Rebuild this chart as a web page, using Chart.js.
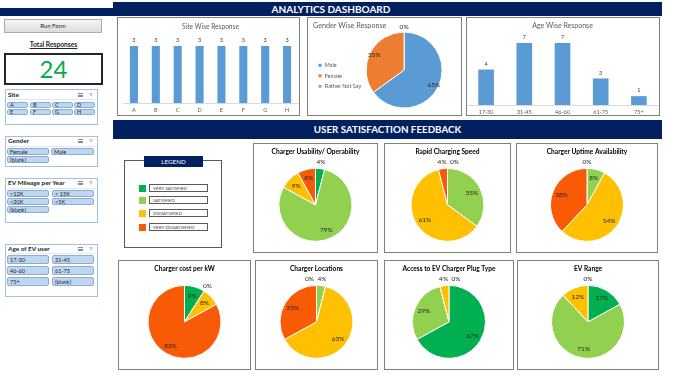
<!DOCTYPE html>
<html><head><meta charset="utf-8">
<script src="https://cdn.jsdelivr.net/npm/chart.js@4.4.1/dist/chart.umd.min.js"></script>
<style>
html,body{margin:0;padding:0;background:#fff;}
body{width:680px;height:387px;position:relative;overflow:hidden;font-family:Lato,"Liberation Sans",sans-serif;color:#262626;}
.a{position:absolute;box-sizing:border-box;}
.navy{background:#002060;color:#fff;font-weight:bold;text-align:center;}
.panel{position:absolute;box-sizing:border-box;border:1px solid #7f7f7f;background:#fff;}
.cw{position:absolute;left:0;top:0;right:0;bottom:0;}
.slicer{position:absolute;box-sizing:border-box;border:1px solid #9dc3e6;background:#fff;}
.sh{position:absolute;font-weight:bold;font-size:6.4px;color:#262626;line-height:8px;white-space:nowrap;}
.sline{position:absolute;height:0;border-top:1px solid #dfe8f3;}
.btn{position:absolute;box-sizing:border-box;background:#bdd7ee;border:1px solid #8eaadb;border-radius:2px;font-size:5.6px;color:#262626;padding-left:2px;white-space:nowrap;overflow:hidden;}
.ic1{position:absolute;width:5px;height:4px;border-top:1px solid #8c8c8c;border-bottom:1px solid #8c8c8c;box-sizing:border-box;}
.ic1:after{content:"";position:absolute;left:0;top:0.5px;width:5px;height:0;border-top:1px solid #8c8c8c;}
.ic2{position:absolute;width:0;height:0;border-left:2.5px solid transparent;border-right:2.5px solid transparent;border-top:4px solid #c8c8c8;}
.lgsq{position:absolute;width:7px;height:7px;}
.lgtx{position:absolute;box-sizing:border-box;border:1px solid #595959;background:#fff;font-size:4.6px;color:#404040;padding-left:3px;white-space:nowrap;}
</style>
</head><body>

<div class="a navy" style="left:0;top:8px;width:113px;height:8px;"></div>
<div class="a navy" style="left:113px;top:2px;width:549px;height:14px;"></div>
<div class="a" style="left:0;top:2px;width:662px;height:14px;line-height:14px;text-align:center;color:#fff;font-weight:bold;font-size:10px;">ANALYTICS DASHBOARD</div>
<div class="a navy" style="left:113px;top:120px;width:549px;height:19px;line-height:19px;font-size:9.8px;">USER SATISFACTION FEEDBACK</div>

<div class="a" style="left:4px;top:19px;width:98px;height:14px;border:1px solid #adadad;background:linear-gradient(#f6f6f6,#dcdcdc);font-size:6px;line-height:12px;text-align:center;">Run Form</div>
<div class="a" style="left:4px;top:40px;width:99px;height:8px;line-height:8px;text-align:center;font-weight:bold;font-size:6.7px;text-decoration:underline;">Total Responses</div>
<div class="a" style="left:4px;top:53px;width:99px;height:32px;border:2px solid #262626;text-align:center;font-size:24px;line-height:28px;color:#00b050;">24</div>

<div class="slicer" style="left:5px;top:89px;width:93px;height:36px;"></div>
<div class="sh" style="left:8px;top:91px;">Site</div>
<div class="ic1" style="left:78px;top:93px;"></div><div class="ic2" style="left:89px;top:93px;"></div>
<div class="sline" style="left:7px;top:99px;width:89px;"></div>
<div class="btn" style="left:7px;top:102px;width:21px;height:6px;line-height:4px;">A</div>
<div class="btn" style="left:30px;top:102px;width:21px;height:6px;line-height:4px;">B</div>
<div class="btn" style="left:52px;top:102px;width:21px;height:6px;line-height:4px;">C</div>
<div class="btn" style="left:74px;top:102px;width:21px;height:6px;line-height:4px;">D</div>
<div class="btn" style="left:7px;top:109px;width:21px;height:6px;line-height:4px;">E</div>
<div class="btn" style="left:30px;top:109px;width:21px;height:6px;line-height:4px;">F</div>
<div class="btn" style="left:52px;top:109px;width:21px;height:6px;line-height:4px;">G</div>
<div class="btn" style="left:74px;top:109px;width:21px;height:6px;line-height:4px;">H</div>

<div class="slicer" style="left:5px;top:136px;width:93px;height:31px;"></div>
<div class="sh" style="left:8px;top:137px;">Gender</div>
<div class="ic1" style="left:78px;top:139px;"></div><div class="ic2" style="left:89px;top:139px;"></div>
<div class="sline" style="left:7px;top:146px;width:89px;"></div>
<div class="btn" style="left:7px;top:148px;width:42px;height:7px;line-height:5px;">Female</div>
<div class="btn" style="left:51px;top:148px;width:43px;height:7px;line-height:5px;">Male</div>
<div class="btn" style="left:7px;top:156px;width:42px;height:7px;line-height:5px;">(blank)</div>

<div class="slicer" style="left:5px;top:178px;width:93px;height:45px;"></div>
<div class="sh" style="left:8px;top:179px;">EV Mileage per Year</div>
<div class="ic1" style="left:78px;top:181px;"></div><div class="ic2" style="left:89px;top:181px;"></div>
<div class="sline" style="left:7px;top:188px;width:89px;"></div>
<div class="btn" style="left:7px;top:190px;width:42px;height:7px;line-height:5px;">&lt;12K</div>
<div class="btn" style="left:52px;top:190px;width:42px;height:7px;line-height:5px;">&lt; 15K</div>
<div class="btn" style="left:7px;top:198px;width:42px;height:7px;line-height:5px;">&lt;20K</div>
<div class="btn" style="left:52px;top:198px;width:42px;height:7px;line-height:5px;">&lt;5K</div>
<div class="btn" style="left:7px;top:206px;width:42px;height:7px;line-height:5px;">(blank)</div>

<div class="slicer" style="left:5px;top:244px;width:93px;height:53px;"></div>
<div class="sh" style="left:8px;top:245px;">Age of EV user</div>
<div class="ic1" style="left:78px;top:247px;"></div><div class="ic2" style="left:89px;top:247px;"></div>
<div class="sline" style="left:7px;top:253px;width:89px;"></div>
<div class="btn" style="left:7px;top:255px;width:42px;height:9px;line-height:7px;">17-30</div>
<div class="btn" style="left:52px;top:255px;width:42px;height:9px;line-height:7px;">31-45</div>
<div class="btn" style="left:7px;top:266px;width:42px;height:9px;line-height:7px;">46-60</div>
<div class="btn" style="left:52px;top:266px;width:42px;height:9px;line-height:7px;">61-75</div>
<div class="btn" style="left:7px;top:277px;width:42px;height:9px;line-height:7px;">75+</div>
<div class="btn" style="left:52px;top:277px;width:42px;height:9px;line-height:7px;">(blank)</div>

<div class="panel" style="left:117px;top:17px;width:183px;height:99px;"><div class="cw"><canvas id="siteChart"></canvas></div></div>
<div class="panel" style="left:307px;top:17px;width:155px;height:99px;"><div class="cw"><canvas id="genderChart"></canvas></div></div>
<div class="panel" style="left:466px;top:17px;width:194px;height:99px;"><div class="cw"><canvas id="ageChart"></canvas></div></div>

<div class="a" style="left:124px;top:160px;width:98px;height:88px;border:1px solid #595959;"></div>
<div class="a navy" style="left:144px;top:156px;width:59px;height:11px;line-height:11px;font-size:6.3px;font-weight:normal;">LEGEND</div>
<div id="legendItems"></div>

<div class="panel" style="left:253px;top:143px;width:125px;height:110px;"><div class="cw"><canvas id="pie1"></canvas></div></div>
<div class="panel" style="left:384px;top:143px;width:127px;height:110px;"><div class="cw"><canvas id="pie2"></canvas></div></div>
<div class="panel" style="left:516px;top:143px;width:142px;height:110px;"><div class="cw"><canvas id="pie3"></canvas></div></div>
<div class="panel" style="left:118px;top:260px;width:133px;height:110px;"><div class="cw"><canvas id="pie4"></canvas></div></div>
<div class="panel" style="left:255px;top:260px;width:123px;height:110px;"><div class="cw"><canvas id="pie5"></canvas></div></div>
<div class="panel" style="left:384px;top:260px;width:130px;height:110px;"><div class="cw"><canvas id="pie6"></canvas></div></div>
<div class="panel" style="left:517px;top:260px;width:142px;height:110px;"><div class="cw"><canvas id="pie7"></canvas></div></div>

<script>
// ---------- data ----------
const siteCategories = ['A','B','C','D','E','F','G','H'];
const siteValues = [3,3,3,3,3,3,3,3];
const genderLabels = ['Male','Female','Rather Not Say'];
const genderValues = [65,35,0];
const ageCategories = ['17-30','31-45','46-60','61-75','75+'];
const ageValues = [4,7,7,3,1];
const satisfactionLevels = ['VERY SATISFIED','SATISFIED','DISSATISFIED','VERY DISSATISFIED'];
const usabilityValues = [4,79,9,8];
const rapidChargingValues = [0,35,61,4];
const uptimeValues = [0,8,54,38];
const costPerKwValues = [9,0,8,83];
const locationValues = [0,4,63,33];
const plugTypeValues = [67,29,4,0];
const evRangeValues = [17,71,12,0];

// ---------- styles ----------
const satisfactionColors = ['#00B050','#92D050','#FFC000','#F85A06'];
const genderColors = ['#5B9BD5','#ED7D31','#A5A5A5'];
const FONT = 'Lato, "Liberation Sans", sans-serif';
Chart.defaults.font.family = FONT;
Chart.defaults.color = '#595959';
Chart.defaults.animation = false;

(function(){
  const rows = [188,200,213,227];
  let h = '';
  satisfactionLevels.forEach((t,i)=>{
    h += `<div class="lgsq" style="left:139px;top:${rows[i]-3.5}px;background:${satisfactionColors[i]}"></div>`;
    h += `<div class="lgtx" style="left:149px;top:${rows[i]-4}px;width:59px;height:8px;line-height:6px;">${t}</div>`;
  });
  document.getElementById('legendItems').innerHTML = h;
})();

const barValuePlugin = {
  id:'barValues',
  afterDatasetsDraw(chart, args, o){
    const ctx = chart.ctx, meta = chart.getDatasetMeta(0), data = chart.data.datasets[0].data;
    ctx.save();
    ctx.font = `${o.size}px ${FONT}`; ctx.fillStyle = o.color;
    ctx.textAlign = 'center'; ctx.textBaseline = 'middle';
    meta.data.forEach((bar,i)=>{ ctx.fillText(String(data[i]), bar.x, bar.y - o.offset); });
    ctx.restore();
  }
};

const pieLabelPlugin = {
  id:'pieLabels',
  afterDatasetsDraw(chart, args, o){
    const ctx = chart.ctx, meta = chart.getDatasetMeta(0), data = chart.data.datasets[0].data;
    ctx.save();
    ctx.font = `${o.size}px ${FONT}`; ctx.fillStyle = o.color;
    ctx.textAlign = 'center'; ctx.textBaseline = 'middle';
    const outs = [];
    meta.data.forEach((arc,i)=>{
      const p = arc.getProps(['x','y','startAngle','endAngle','outerRadius'], true);
      const mid = (p.startAngle + p.endAngle)/2;
      const txt = data[i] + '%';
      const w = ctx.measureText(txt).width;
      if (data[i] >= o.insideMin) {
        const d = p.outerRadius*o.inR;
        ctx.fillText(txt, p.x + Math.cos(mid)*d, p.y + Math.sin(mid)*d);
      } else {
        const d = p.outerRadius + o.outGap;
        outs.push({txt, w, v:data[i], x:p.x + Math.cos(mid)*d, y:p.y + Math.sin(mid)*d});
      }
    });
    outs.sort((a,b)=>a.x-b.x);
    for (let i=1;i<outs.length;i++){
      const a = outs[i-1], b = outs[i];
      if (Math.abs(a.y-b.y) < o.size*1.3) {
        const need = (a.w+b.w)/2 + o.gap, cur = b.x - a.x;
        if (cur < need) {
          if (a.v < b.v) a.x = b.x - need; else b.x = a.x + need;
        }
      }
    }
    outs.forEach(l=>ctx.fillText(l.txt, l.x, l.y));
    ctx.restore();
  }
};

function barChart(id, cats, vals, cfg){
  return new Chart(document.getElementById(id), {
    type:'bar',
    data:{labels:cats, datasets:[{data:vals, backgroundColor:'#5B9BD5', categoryPercentage:1, barPercentage:cfg.barPct}]},
    options:{
      responsive:true, maintainAspectRatio:false, animation:false,
      layout:{padding:{left:cfg.padL, right:cfg.padR, top:0, bottom:0}},
      scales:{
        x:{grid:{display:false, drawTicks:false}, border:{display:true, color:'#d9d9d9', width:1},
           ticks:{font:{size:5.5}, color:'#595959', padding:3.7},
           afterFit:(s)=>{ s.height = cfg.axisH; }},
        y:{display:false, min:0, max:cfg.max}
      },
      plugins:{
        legend:{display:false}, tooltip:{enabled:false},
        title:{display:true, text:cfg.title, color:'#595959', font:{size:cfg.titleSize, weight:'normal'}, padding:{top:cfg.tTop, bottom:cfg.tBot}},
        barValues:{size:5.5, color:'#404040', offset:5.5}
      }
    },
    plugins:[barValuePlugin]
  });
}

barChart('siteChart', siteCategories, siteValues, {title:'Site Wise Response', titleSize:6.6, tTop:5, tBot:5.6, barPct:0.37, padL:5, padR:1, axisH:12, max:3.5});
barChart('ageChart', ageCategories, ageValues, {title:'Age Wise Response', titleSize:7, tTop:4, tBot:3.7, barPct:0.41, padL:0, padR:1, axisH:10, max:8});

new Chart(document.getElementById('genderChart'), {
  type:'pie',
  data:{labels:genderLabels, datasets:[{data:genderValues, backgroundColor:genderColors, borderColor:'#fff', borderWidth:1, radius:38}]},
  options:{
    responsive:true, maintainAspectRatio:false, animation:false,
    layout:{padding:{left:5, right:24, top:0, bottom:8}},
    plugins:{
      tooltip:{enabled:false},
      title:{display:true, text:'Gender Wise Response', align:'start', color:'#595959', font:{size:7.2, weight:'normal'}, padding:{top:3, bottom:3.4}},
      legend:{display:true, position:'left', align:'center',
        title:{display:true, text:' ', font:{size:5.5}, padding:10},
        labels:{boxWidth:4, boxHeight:4, padding:5, font:{size:5.5}, color:'#595959'}},
      pieLabels:{size:6.5, color:'#262626', inR:0.88, insideMin:6, outGap:5.5, gap:3.5}
    }
  },
  plugins:[pieLabelPlugin]
});

function pieChart(id, title, vals){
  return new Chart(document.getElementById(id), {
    type:'pie',
    data:{labels:satisfactionLevels, datasets:[{data:vals, backgroundColor:satisfactionColors, borderColor:'#fff', borderWidth:1, radius:36.5}]},
    options:{
      responsive:true, maintainAspectRatio:false, animation:false,
      layout:{padding:{left:0, right:0, top:0, bottom:6}},
      plugins:{
        legend:{display:false}, tooltip:{enabled:false},
        title:{display:true, text:title, color:'#000', font:{size:6.6, weight:'bold'}, padding:{top:4, bottom:7.8}},
        pieLabels:{size:6.5, color:'#262626', inR:0.75, insideMin:6, outGap:6.5, gap:3.5}
      }
    },
    plugins:[pieLabelPlugin]
  });
}
pieChart('pie1', 'Charger Usability/ Operability', usabilityValues);
pieChart('pie2', 'Rapid Charging Speed', rapidChargingValues);
pieChart('pie3', 'Charger Uptime Availability', uptimeValues);
pieChart('pie4', 'Charger cost per kW', costPerKwValues);
pieChart('pie5', 'Charger Locations', locationValues);
pieChart('pie6', 'Access to EV Charger Plug Type', plugTypeValues);
pieChart('pie7', 'EV Range', evRangeValues);
</script>
</body></html>
